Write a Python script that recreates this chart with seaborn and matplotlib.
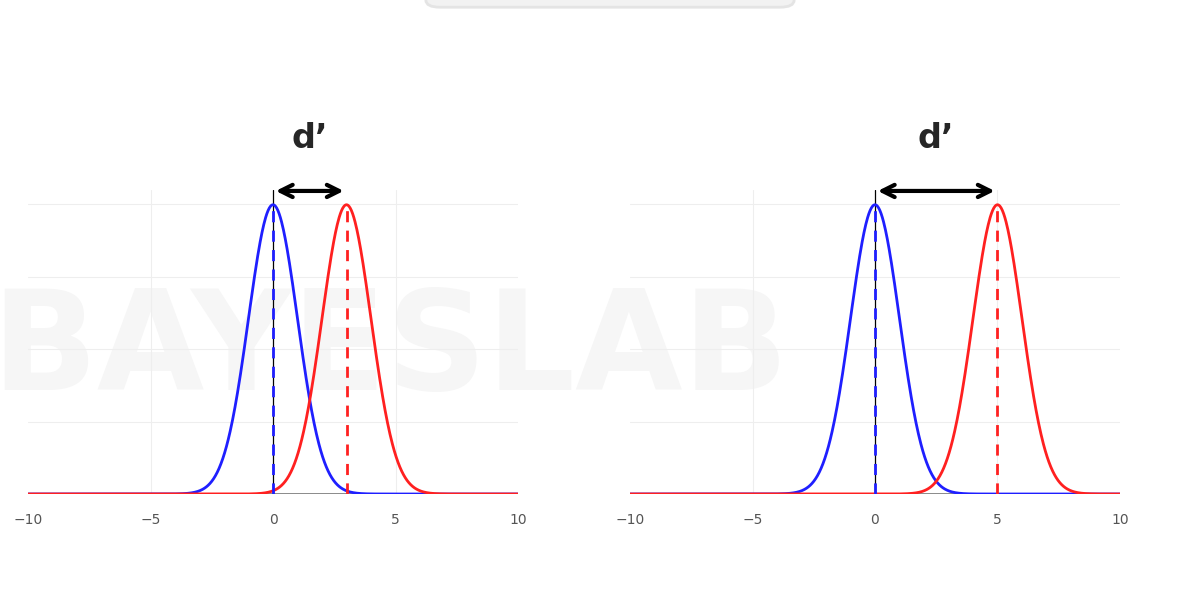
import numpy as np
import pandas as pd
from matplotlib import pyplot as plt
from matplotlib.patches import FancyBboxPatch
import seaborn as sns

# two panels: noise distribution (blue) vs signal distribution (red)
noise_mean = 0
signal_means = [3, 5]
sd = 1
x_ticks = [-10, -5, 0, 5, 10]
tick_labels = ["\u221210", "\u22125", "0", "5", "10"]
grid_y = [0.1, 0.2, 0.3, 0.4]
label = "d\u2019"

sns.set_style("white")
fig = plt.figure(figsize=(11.81, 6.01), dpi=100)

xs = np.linspace(-10, 10, 801)


def pdf(x, m, s):
    return np.exp(-0.5 * ((x - m) / s) ** 2) / (s * np.sqrt(2 * np.pi))


panel_left = [28 / 1181, 630 / 1181]
for left, sm in zip(panel_left, signal_means):
    ax = fig.add_axes([left, 1 - 494 / 601, 490 / 1181, (494 - 189.5) / 601])
    df = pd.DataFrame({"x": np.concatenate([xs, xs]),
                       "y": np.concatenate([pdf(xs, noise_mean, sd), pdf(xs, sm, sd)]),
                       "dist": ["noise"] * len(xs) + ["signal"] * len(xs)})
    for gy in grid_y:
        ax.axhline(gy, color="#eeeeee", lw=0.8, zorder=0)
    for gx in [-5, 5]:
        ax.axvline(gx, color="#eeeeee", lw=0.8, zorder=0)
    ax.axhline(0, color="#777777", lw=1.2, zorder=1)
    ax.axvline(0, color="black", lw=0.9, zorder=1)
    sns.lineplot(data=df, x="x", y="y", hue="dist", palette=["#1f1fff", "#ff2020"],
                 lw=2, legend=False, ax=ax, zorder=3)
    ax.plot([noise_mean, noise_mean], [0, pdf(noise_mean, noise_mean, sd)], color="#1f1fff",
            ls=(0, (4, 3)), lw=2, zorder=4)
    ax.plot([sm, sm], [0, pdf(sm, sm, sd)], color="#ff2020", ls=(0, (4, 3)), lw=2, zorder=4)
    ax.annotate("", xy=(sm, 0.418), xytext=(noise_mean, 0.418),
                arrowprops=dict(arrowstyle="<->", lw=3, color="black", mutation_scale=22),
                annotation_clip=False)
    ax.text((noise_mean + sm) / 2, 0.49, label, ha="center", va="center",
            fontsize=24, fontweight="bold")
    ax.set_xlim(-10, 10)
    ax.set_ylim(0, 0.42)
    ax.set_xticks(x_ticks)
    ax.set_xticklabels(tick_labels, color="#555555", fontsize=10)
    ax.set_yticks([])
    ax.set_xlabel("")
    ax.set_ylabel("")
    ax.tick_params(axis="x", length=0, pad=14)
    for sp in ax.spines.values():
        sp.set_visible(False)
    ax.patch.set_alpha(0)

# faint watermark and top shadow
fig.text(390 / 1181, 1 - 352 / 601, "BAYESLAB", fontsize=100, fontweight="bold",
         color="#f6f6f6", ha="center", va="center", zorder=-1)
fig.patches.append(FancyBboxPatch((440 / 1181, 1.0), 340 / 1181, 0.0,
                                  boxstyle="round,pad=0.012", transform=fig.transFigure,
                                  fc="#f2f2f2", ec="#e4e4e4", lw=2, zorder=-1))

fig.savefig("out.png", dpi=100)
